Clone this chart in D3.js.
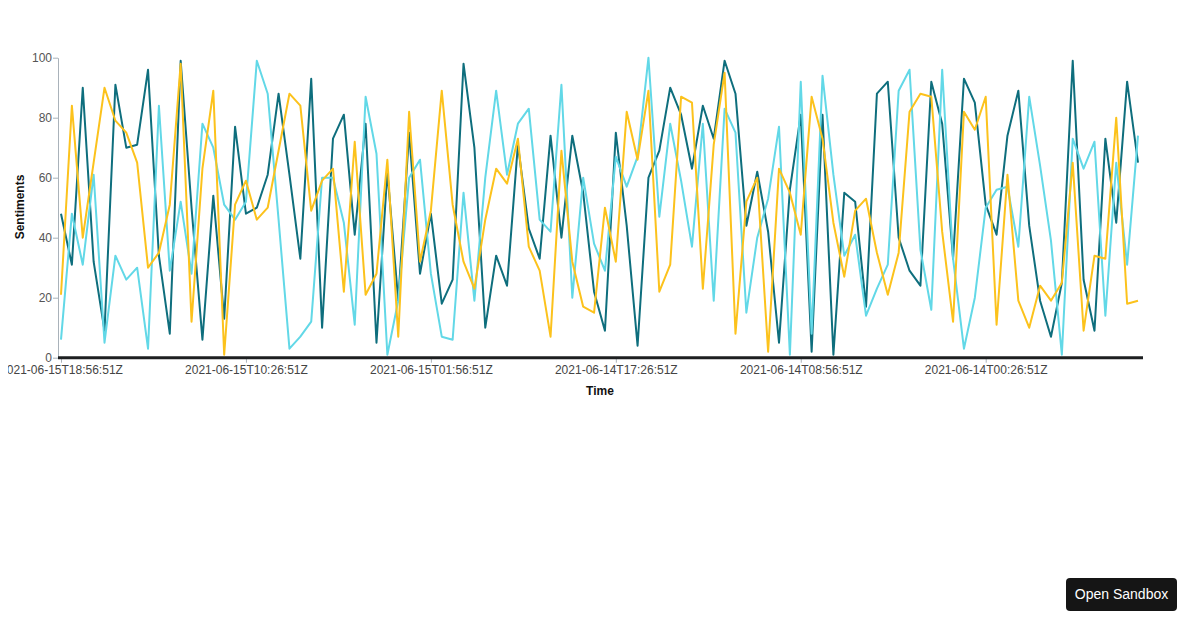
<html>
  <head>
    <script src="https://d3js.org/d3.v7.min.js"></script>
    <style>
      body {
        margin: 0;
        background: #fff;
        font-family: "Liberation Sans", Arial, sans-serif;
      }
      #chart {
        position: absolute;
        left: 8px;
        top: 0;
      }
      .tick text {
        font-size: 12px;
        fill: #555;
      }
      .tick line {
        stroke: #a9b2ba;
      }
      .axis-title {
        font-size: 12px;
        font-weight: 700;
        fill: #111;
      }
      #sandbox {
        position: absolute;
        left: 1066px;
        top: 578px;
        width: 111px;
        height: 33px;
        background: #151515;
        color: #fff;
        border-radius: 4px;
        font-size: 14px;
        line-height: 33px;
        text-align: center;
      }
    </style>
  </head>
  <body>
    <svg id="chart" width="1192" height="630"></svg>
    <div id="sandbox">Open Sandbox</div>

    <script>
      // first timestamp and spacing of the readings (30 minutes apart, newest first)
      const startTime = "2021-06-15T18:56:51Z";
      const stepMinutes = 30;
      const pointCount = 100;

      const tickLabels = [
        "2021-06-15T18:56:51Z",
        "2021-06-15T10:26:51Z",
        "2021-06-15T01:56:51Z",
        "2021-06-14T17:26:51Z",
        "2021-06-14T08:56:51Z",
        "2021-06-14T00:26:51Z",
      ];

      const seriesNames = ["dark", "light", "yellow"];
      const seriesColors = ["#0e6e7d", "#62d8e7", "#fcc21c"];

      const darkValues = [
        48, 31, 90, 32, 9, 91, 70, 71, 96, 34, 8, 99, 50, 6, 54, 13, 77, 48, 50,
        61, 88, 61, 33, 93, 10, 73, 81, 41, 78, 5, 62, 19, 75, 28, 48, 18, 26, 98,
        70, 10, 34, 24, 71, 43, 33, 74, 40, 74, 55, 22, 9, 75, 44, 4, 60, 69, 90,
        81, 63, 84, 73, 99, 88, 44, 62, 42, 5, 56, 81, 2, 81, 1, 55, 52, 17, 88,
        92, 40, 29, 24, 92, 78, 33, 93, 85, 51, 41, 74, 89, 44, 19, 7, 25, 99, 26,
        9, 73, 45, 92, 65,
      ];
      const lightValues = [
        6, 48, 31, 61, 5, 34, 26, 30, 3, 84, 29, 52, 28, 78, 70, 51, 46, 52, 99,
        88, 46, 3, 7, 12, 60, 60, 45, 11, 87, 68, 1, 19, 60, 66, 28, 7, 6, 55, 19,
        60, 89, 61, 78, 83, 46, 42, 91, 20, 60, 38, 29, 67, 57, 67, 100, 47, 78,
        59, 37, 78, 19, 83, 75, 15, 40, 53, 77, 1, 92, 8, 94, 61, 34, 41, 14, 23,
        31, 89, 96, 36, 16, 96, 33, 3, 20, 50, 56, 57, 37, 87, 64, 39, 1, 73, 63,
        72, 14, 65, 31, 74,
      ];
      const yellowValues = [
        21, 84, 40, 65, 90, 79, 75, 65, 30, 35, 51, 98, 12, 63, 89, 1, 51, 59, 46,
        50, 69, 88, 84, 49, 59, 63, 22, 72, 21, 28, 66, 7, 82, 32, 49, 89, 51, 32,
        23, 46, 63, 58, 73, 37, 29, 7, 69, 32, 17, 15, 50, 32, 82, 66, 89, 22, 31,
        87, 85, 23, 71, 95, 8, 52, 60, 2, 63, 55, 41, 87, 73, 45, 27, 49, 53, 35,
        21, 35, 82, 88, 87, 42, 12, 82, 76, 87, 11, 61, 19, 10, 24, 19, 25, 65, 9,
        34, 33, 80, 18, 19,
      ];

      const svg = d3.select("#chart");
      // svg sits 8px in from the page edge, so the first label gets clipped
      const margin = { top: 57.7, left: 50 };
      const plotWidth = 1085;
      const plotHeight = 300;

      // build the time categories
      const t0 = new Date(startTime);
      const times = d3
        .range(pointCount)
        .map((i) =>
          d3.utcMinute.offset(t0, -i * stepMinutes).toISOString().replace(".000", "")
        );

      const allSeries = [darkValues, lightValues, yellowValues].map((vals, k) => ({
        name: seriesNames[k],
        color: seriesColors[k],
        values: vals.map((v, i) => ({ time: times[i], value: v })),
      }));

      const xScale = d3.scalePoint().domain(times).range([3, plotWidth - 5]);
      const yScale = d3.scaleLinear().domain([0, 100]).range([plotHeight, 0]);

      const chart = svg
        .append("g")
        .attr("transform", `translate(${margin.left},${margin.top})`);

      // y axis
      const yAxis = chart
        .append("g")
        .call(d3.axisLeft(yScale).ticks(5).tickSize(5).tickSizeOuter(0));
      yAxis.select(".domain").attr("stroke", "#a9b2ba");
      yAxis.selectAll(".tick text").attr("x", -6);

      // x axis, one label every 17 points
      const xAxis = chart
        .append("g")
        .attr("transform", `translate(0,${plotHeight})`)
        .call(
          d3
            .axisBottom(xScale)
            .tickValues(tickLabels)
            .tickSize(5)
            .tickSizeOuter(0)
        );
      xAxis.select(".domain").remove();
      xAxis.selectAll(".tick text").attr("y", 8).style("fill", "#444");
      xAxis
        .append("line")
        .attr("x1", 0)
        .attr("x2", plotWidth)
        .attr("stroke", "#1d1f21")
        .attr("stroke-width", 3);

      const line = d3
        .line()
        .x((d) => xScale(d.time))
        .y((d) => yScale(d.value));

      chart
        .selectAll("path.series")
        .data(allSeries)
        .join("path")
        .attr("class", "series")
        .attr("fill", "none")
        .attr("stroke", (d) => d.color)
        .attr("stroke-width", 2)
        .attr("stroke-linejoin", "round")
        .attr("d", (d) => line(d.values));

      // axis titles
      svg
        .append("text")
        .attr("class", "axis-title")
        .attr("text-anchor", "middle")
        .attr("x", 592)
        .attr("y", 395)
        .text("Time");
      svg
        .append("text")
        .attr("class", "axis-title")
        .attr("text-anchor", "middle")
        .attr("transform", "translate(16,207) rotate(-90)")
        .text("Sentiments");
    </script>
  </body>
</html>
